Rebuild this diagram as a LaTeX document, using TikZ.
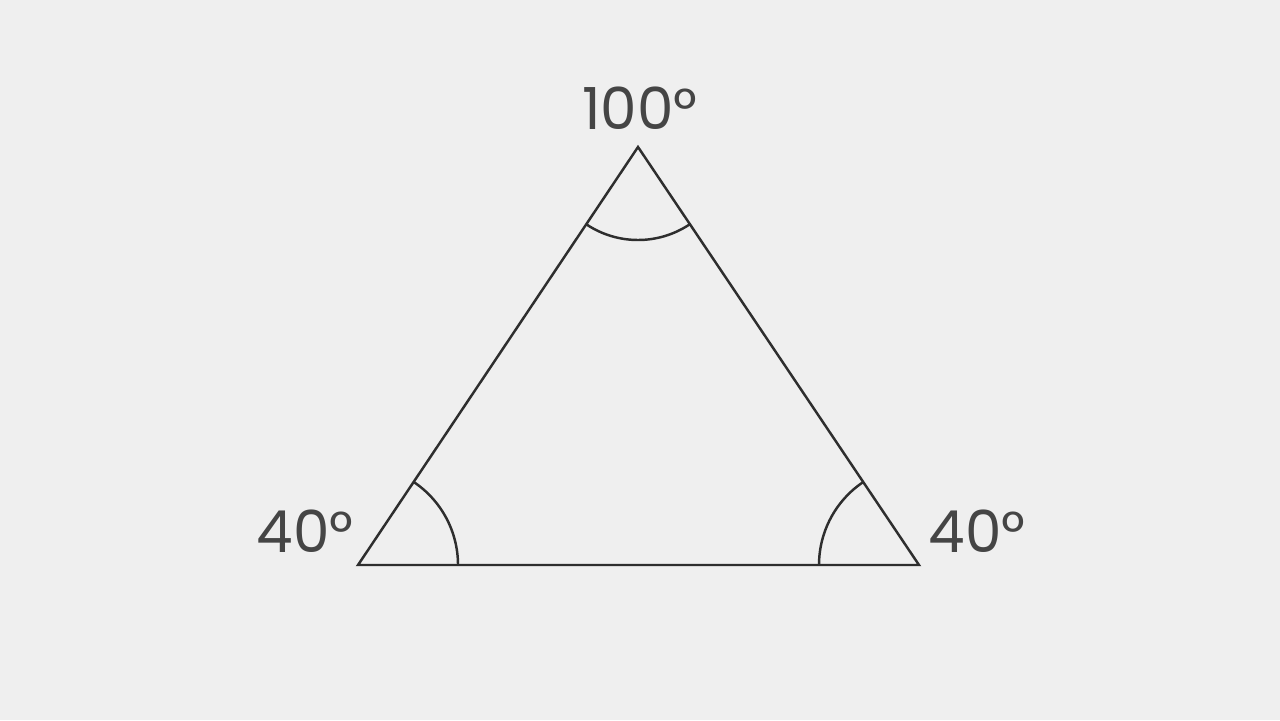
\documentclass[tikz,border=0pt]{standalone}
\usepackage{fontspec}
\setmainfont{Poppins}
\definecolor{bgcol}{HTML}{EFEFEF}
\definecolor{inkcol}{HTML}{2E2E2E}
\definecolor{labcol}{HTML}{454545}
\tikzset{
  side/.style={draw=inkcol,line width=0.7pt,line join=miter},
  anglearc/.style={draw=inkcol,line width=0.7pt},
  anglelab/.style={text=labcol,font=\fontsize{16.5}{18}\selectfont,inner sep=0pt}
}
\begin{document}
\begin{tikzpicture}[x=0.01cm,y=0.01cm]
   \fill[bgcol] (0,0) rectangle (1280,720);
   \useasboundingbox (0,0) rectangle (1280,720);
   \coordinate (A) at (358,155);
   \coordinate (B) at (919,155);
   \coordinate (C) at (638,573);
   \draw[side] (A) -- (B) -- (C) -- cycle;
   % angle marks
   \draw[anglearc] ([shift={(0:100)}]A) arc (0:56.2:100);
   \draw[anglearc] ([shift={(180:100)}]B) arc (180:123.8:100);
   \draw[anglearc] ([shift={(236.2:93)}]C) arc (236.2:303.8:93);
   % labels
   \node[anglelab] (labC) at (640,612) {100°};
   \node[anglelab] (labA) at (305,189) {40°};
   \node[anglelab] (labB) at (977,189) {40°};
\end{tikzpicture}
\end{document}
